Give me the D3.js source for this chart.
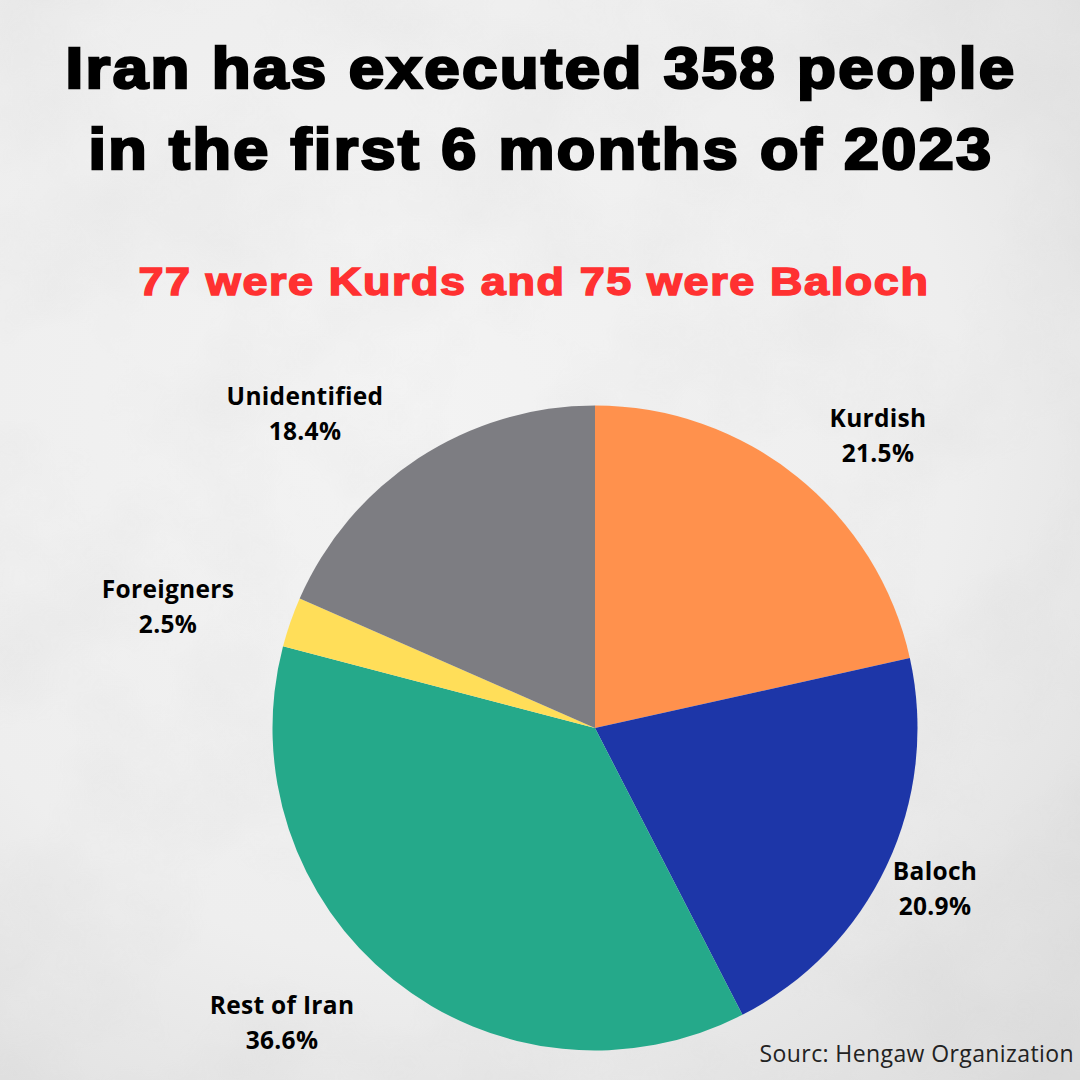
<!DOCTYPE html>
<html>
<head>
<meta charset="utf-8">
<script src="https://cdn.jsdelivr.net/npm/d3@7"></script>
<style>
html, body { margin: 0; padding: 0; background: #f0f0f0; }
svg { display: block; }
</style>
</head>
<body>
<div id="chart"></div>
<script>
const categories = ["Kurdish", "Baloch", "Rest of Iran", "Foreigners", "Unidentified"];
const shares = [21.5, 20.9, 36.6, 2.5, 18.4];
const colours = ["#ff914d", "#1d36a8", "#25a98a", "#ffde59", "#7d7d82"];
// label anchors, the labels sit irregularly around the pie
const labelSpots = [[878, 419], [935, 872], [282, 1006], [168, 590], [305, 397]];

const width = 1080, height = 1080;
const svg = d3.select("#chart").append("svg")
	.attr("width", width)
	.attr("height", height);

// paper-like background: a soft gradient with cloudy noise on top
const defs = svg.append("defs");
const grad = defs.append("radialGradient").attr("id", "paper")
	.attr("gradientUnits", "userSpaceOnUse")
	.attr("cx", 420).attr("cy", 420).attr("r", 900);
grad.append("stop").attr("offset", "0%").attr("stop-color", "#f3f3f3");
grad.append("stop").attr("offset", "60%").attr("stop-color", "#eeeeee");
grad.append("stop").attr("offset", "100%").attr("stop-color", "#dcdcdc");
svg.append("rect").attr("width", width).attr("height", height).attr("fill", "url(#paper)");

const clouds = defs.append("filter").attr("id", "clouds")
	.attr("x", 0).attr("y", 0).attr("width", "100%").attr("height", "100%");
clouds.append("feTurbulence").attr("type", "fractalNoise")
	.attr("baseFrequency", 0.007).attr("numOctaves", 5).attr("seed", 11);
clouds.append("feColorMatrix").attr("type", "matrix")
	.attr("values", "0 0 0 0 0.45  0 0 0 0 0.45  0 0 0 0 0.45  1.1 0 0 0 -0.42");
svg.append("rect").attr("width", width).attr("height", height)
	.attr("filter", "url(#clouds)").attr("opacity", 0.16);

const titleFont = "'Liberation Sans', Arimo, sans-serif";
const labelFont = "'Open Sans', sans-serif";

const title = svg.append("g").attr("font-family", titleFont).attr("font-weight", 700)
	.attr("text-anchor", "middle").attr("fill", "#000")
	.attr("stroke", "#000").attr("stroke-width", 2.6).attr("letter-spacing", 2.2);
title.append("text").attr("x", 541).attr("y", 88).attr("font-size", 58)
	.attr("textLength", 951).attr("lengthAdjust", "spacingAndGlyphs").text("Iran has executed 358 people");
title.append("text").attr("x", 541).attr("y", 169).attr("font-size", 58)
	.attr("textLength", 905).attr("lengthAdjust", "spacingAndGlyphs").text("in the first 6 months of 2023");

svg.append("text").attr("x", 534).attr("y", 295)
	.attr("font-family", titleFont).attr("font-weight", 700).attr("font-size", 39)
	.attr("text-anchor", "middle").attr("fill", "#ff3131")
	.attr("stroke", "#ff3131").attr("stroke-width", 1.5).attr("letter-spacing", 1.4)
	.attr("textLength", 791).attr("lengthAdjust", "spacingAndGlyphs")
	.text("77 were Kurds and 75 were Baloch");

const cx = 595, cy = 728, radius = 322.5;
const pie = d3.pie().sort(null).value(function (d) { return d; });
const arc = d3.arc().innerRadius(0).outerRadius(radius);

const g = svg.append("g").attr("transform", "translate(" + cx + "," + cy + ")");
g.selectAll("path")
	.data(pie(shares))
	.enter()
	.append("path")
	.attr("d", arc)
	.attr("fill", function (d, i) { return colours[i]; });

const labels = svg.append("g").attr("font-family", labelFont).attr("font-weight", 700)
	.attr("font-size", 24.5).attr("letter-spacing", 0.3).attr("text-anchor", "middle").attr("fill", "#000");
categories.forEach(function (c, i) {
	const t = labels.append("text").attr("x", labelSpots[i][0]).attr("y", labelSpots[i][1]);
	t.append("tspan").attr("x", labelSpots[i][0]).attr("dy", 8).text(c);
	t.append("tspan").attr("x", labelSpots[i][0]).attr("dy", 35).text(shares[i] + "%");
});

svg.append("text").attr("x", 1074).attr("y", 1062).attr("text-anchor", "end")
	.attr("font-family", labelFont).attr("font-size", 23).attr("letter-spacing", 0.4).attr("fill", "#222")
	.text("Sourc: Hengaw Organization");
</script>
</body>
</html>
